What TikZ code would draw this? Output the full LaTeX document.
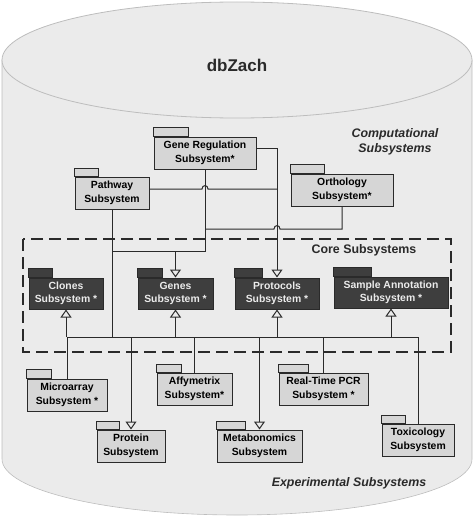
\documentclass[tikz,border=0pt]{standalone}
\usepackage{fontspec}
\setmainfont{Liberation Sans}
\usetikzlibrary{arrows.meta}
\definecolor{cyl}{HTML}{EBEBEB}
\definecolor{cyledge}{HTML}{BDBDBD}
\definecolor{lightpkg}{HTML}{D6D6D6}
\definecolor{darkpkg}{HTML}{3E3E3E}
\definecolor{ink}{HTML}{2A2A2A}
\tikzset{
  pkgl/.style={draw=ink, line width=1pt, fill=lightpkg, rectangle, inner sep=0pt, align=center,
    text=black, font=\fontsize{10.4}{13.5}\selectfont\bfseries},
  pkgd/.style={draw=ink, line width=1pt, fill=darkpkg, rectangle, inner sep=0pt, align=center,
    text=white!92!black, font=\fontsize{10.4}{13.5}\selectfont\bfseries},
  tabl/.style={draw=ink, line width=1pt, fill=lightpkg},
  tabd/.style={draw=ink, line width=1pt, fill=darkpkg},
  conn/.style={draw=ink, line width=1pt},
  gen/.style={conn, -{Triangle[open, width=11pt, length=8pt, line width=1pt]}},
  lbl/.style={text=ink, font=\fontsize{12.4}{15}\selectfont\bfseries\itshape, align=center},
}
\begin{document}
\begin{tikzpicture}[x=1pt, y=-1pt]
\useasboundingbox (0,0) rectangle (474,519);
% cylinder
\path[fill=cyl, draw=cyledge, line width=0.6pt]
  (2,60) -- (2,459) arc[start angle=180, end angle=360, x radius=235pt, y radius=56pt]
  -- (472,60) -- cycle;
\draw[fill=cyl, draw=cyledge, line width=0.8pt] (237,60) ellipse[x radius=235pt, y radius=58pt];
\node[text=ink, font=\fontsize{17}{20}\selectfont\bfseries] (title) at (237,65) {dbZach};

% labels
\node[lbl] (comp) at (395,142) {Computational\\Subsystems};
\node[lbl, font=\fontsize{12.4}{15}\selectfont\bfseries] (core) at (364,250) {Core Subsystems};
\node[lbl] (exp) at (349,483) {Experimental Subsystems};

% core dashed box
\draw[ink, line width=1.3pt, dash pattern=on 12pt off 6pt] (23,239) rectangle (451,352);

% packages: body nodes
\node[pkgl, minimum width=102pt, minimum height=32pt] (genereg) at (205,153) {Gene Regulation\\Subsystem*};
\node[pkgl, minimum width=74pt, minimum height=32pt] (pathway) at (112,193) {Pathway\\Subsystem};
\node[pkgl, minimum width=102pt, minimum height=32pt] (ortho) at (342,190) {Orthology\\Subsystem*};

\node[pkgd, minimum width=74pt, minimum height=31pt] (clones) at (66,293.5) {Clones\\Subsystem *};
\node[pkgd, minimum width=75pt, minimum height=31pt] (genes) at (175.5,293.5) {Genes\\Subsystem *};
\node[pkgd, minimum width=84pt, minimum height=31pt] (protocols) at (277,293.5) {Protocols\\Subsystem *};
\node[pkgd, minimum width=114pt, minimum height=31pt] (sample) at (391,292.5) {Sample Annotation\\Subsystem *};

\node[pkgl, minimum width=80pt, minimum height=32pt] (micro) at (67,395) {Microarray\\Subsystem *};
\node[pkgl, minimum width=75pt, minimum height=32pt] (affy) at (194.5,389) {Affymetrix\\Subsystem*};
\node[pkgl, minimum width=89pt, minimum height=32pt] (rtpcr) at (323.5,389) {Real-Time PCR\\Subsystem *};
\node[pkgl, minimum width=68pt, minimum height=32pt] (protein) at (131,446) {Protein\\Subsystem};
\node[pkgl, minimum width=85pt, minimum height=32pt] (metab) at (259.5,446) {Metabonomics\\Subsystem};
\node[pkgl, minimum width=72pt, minimum height=32pt] (toxic) at (418,440) {Toxicology\\Subsystem};

% tabs
\draw[tabl] (genereg.north west) rectangle ++(35,-9);
\draw[tabl] (pathway.north west) rectangle ++(24,-8);
\draw[tabl] (ortho.north west) rectangle ++(34,-9);
\draw[tabd] (clones.north west) rectangle ++(24,-9);
\draw[tabd] (genes.north west) rectangle ++(25,-9);
\draw[tabd] (protocols.north west) rectangle ++(28,-9);
\draw[tabd] (sample.north west) rectangle ++(38,-9);
\draw[tabl] (micro.north west) rectangle ++(25,-9);
\draw[tabl] (affy.north west) rectangle ++(25,-8);
\draw[tabl] (rtpcr.north west) rectangle ++(30,-8);
\draw[tabl] (protein.north west) rectangle ++(23,-8);
\draw[tabl] (metab.north west) rectangle ++(29,-8);
\draw[tabl] (toxic.north west) rectangle ++(24,-8);

% junction coordinates
\coordinate (cbus) at (112,251);
\coordinate (ebus) at (112,337);
\coordinate (jP) at (277,189);
\coordinate (jO) at (205,229);

% computational connectors
\draw[gen] ([yshift=5pt]genereg.east) -| (protocols.north);
\draw[conn] ([yshift=4pt]pathway.east) -- (202,189) .. controls (202,184.5) and (208,184.5) .. (208,189) -- (jP);
\draw[conn] (genereg.south) |- (cbus);
\draw[gen] (genes.north |- cbus) -- (genes.north);
\draw[conn] (ortho.south) |- (280,229) .. controls (280,224.5) and (274,224.5) .. (274,229) -- (jO);
\draw[conn] (pathway.south) -- (ebus);

% experimental bus
\draw[conn] (micro.north) |- (toxic.north |- ebus) -- (toxic.north);
\draw[gen] (clones.south |- ebus) -- (clones.south);
\draw[gen] (genes.south |- ebus) -- (genes.south);
\draw[gen] (protocols.south |- ebus) -- (protocols.south);
\draw[gen] (sample.south |- ebus) -- (sample.south);
\draw[gen] (protein.north |- ebus) -- (protein.north);
\draw[gen] (metab.north |- ebus) -- (metab.north);
\draw[conn, line width=1.3pt] (affy.north |- ebus) -- (affy.north);
\draw[conn] (rtpcr.north |- ebus) -- (rtpcr.north);
\end{tikzpicture}
\end{document}
